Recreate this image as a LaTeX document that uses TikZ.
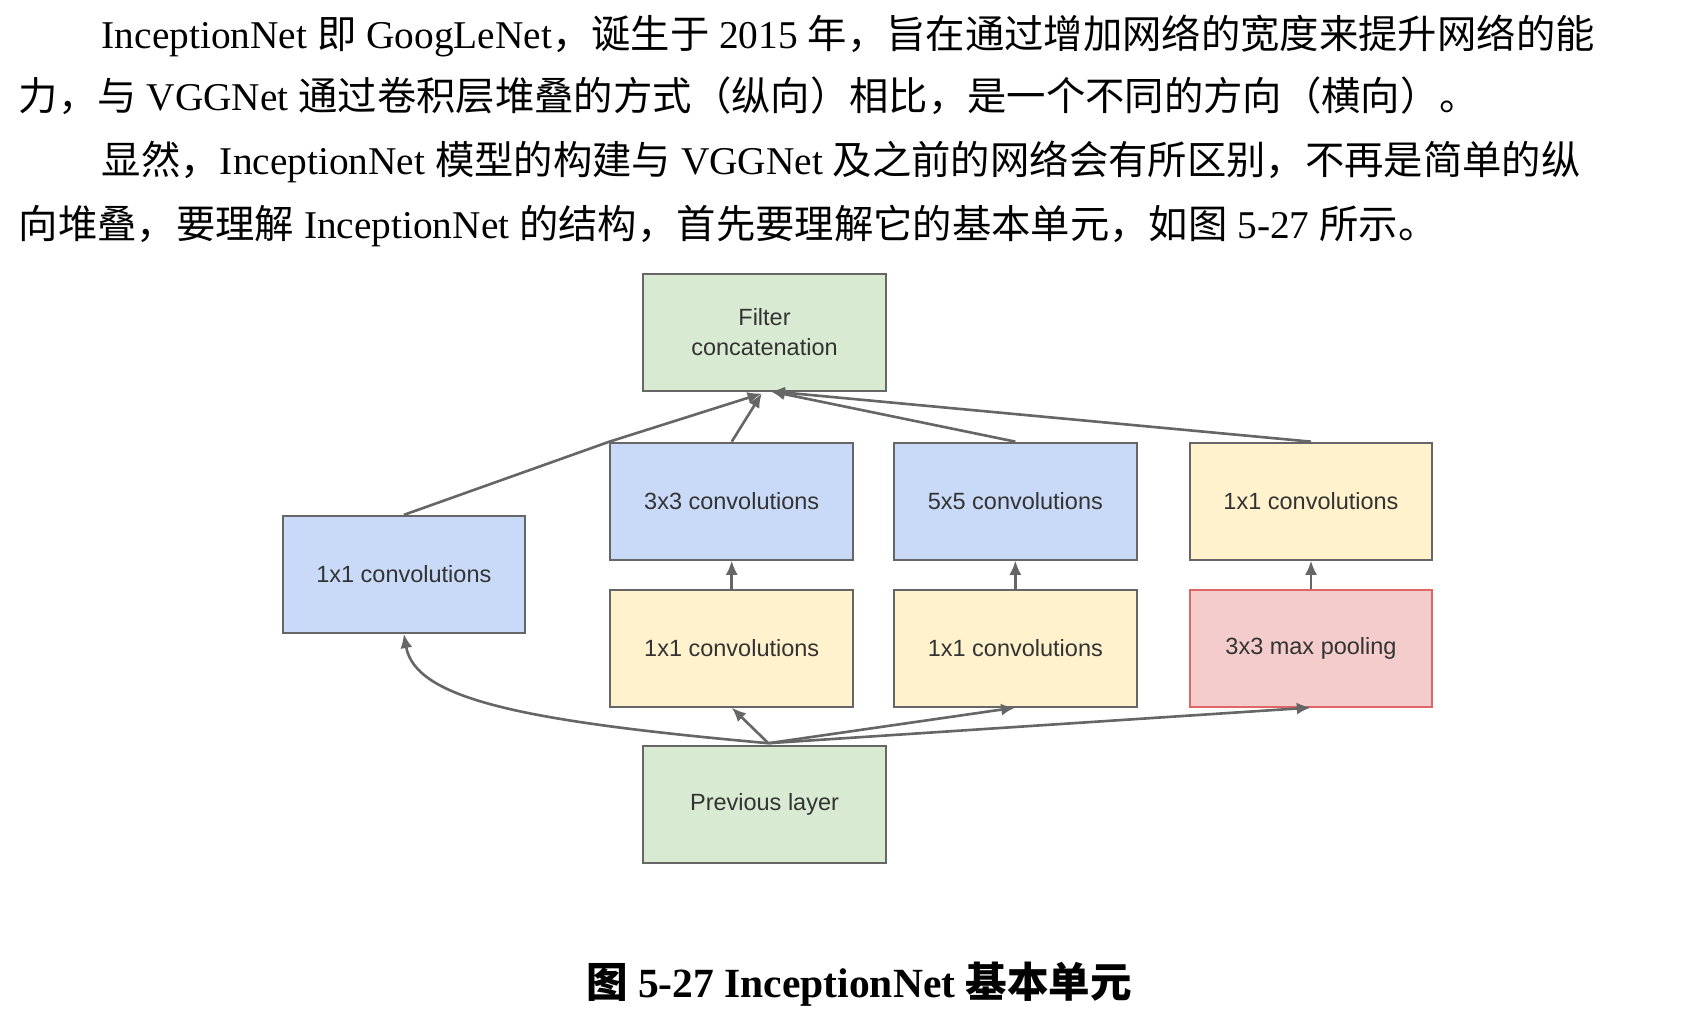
\documentclass[tikz,border=0pt]{standalone}
\usepackage{fontspec}
\setmainfont{Liberation Serif}
\setsansfont{Liberation Sans}
\newfontfamily\cjk{Noto Sans CJK SC}
\begin{document}
\begin{tikzpicture}[x=1pt,y=-1pt,
 box/.style={draw=black!60,line width=1.8pt,minimum width=222pt,minimum height=107pt,inner sep=0pt,font=\sffamily\fontsize{21.5}{26}\selectfont,text=black!80,align=center},
 gbox/.style={box,fill={rgb,255:red,217;green,234;blue,211}},
 bbox/.style={box,fill={rgb,255:red,201;green,218;blue,248}},
 ybox/.style={box,fill={rgb,255:red,255;green,242;blue,204}},
 pbox/.style={box,fill={rgb,255:red,244;green,204;blue,204},draw={rgb,255:red,224;green,102;blue,102}},
 arr/.style={draw=black!60,line width=2.4pt,-{Latex[length=13pt,width=11pt]}},
 ln/.style={anchor=base west,inner sep=0pt,font=\fontsize{36}{40}\selectfont}]
\usetikzlibrary{arrows.meta}
\useasboundingbox (0,0) rectangle (1560,926);
\node[ln] (l1) at (93,44) {InceptionNet {\cjk 即} GoogLeNet{\cjk ，诞生于} 2015 {\cjk 年，旨在通过增加网络的宽度来提升网络的能}};
\node[ln] (l2) at (17,101) {{\cjk 力，与} VGGNet {\cjk 通过卷积层堆叠的方式（纵向）相比，是一个不同的方向（横向）。}};
\node[ln] (l3) at (93,160) {{\cjk 显然，}InceptionNet {\cjk 模型的构建与} VGGNet {\cjk 及之前的网络会有所区别，不再是简单的纵}};
\node[ln] (l4) at (17,218) {{\cjk 向堆叠，要理解} InceptionNet {\cjk 的结构，首先要理解它的基本单元，如图} 5-27 {\cjk 所示。}};
\node[ln,anchor=base,font=\bfseries\fontsize{38}{42}\selectfont] (cap) at (786,913) {{\cjk\bfseries 图} 5-27 InceptionNet {\cjk\bfseries 基本单元}};

\node[gbox] (fc) at (699.5,304) {Filter\\[2pt]concatenation};
\node[bbox] (a1) at (369.5,525.5) {1x1 convolutions};
\node[bbox] (b2) at (669.5,458.5) {3x3 convolutions};
\node[bbox] (c2) at (929,458.5) {5x5 convolutions};
\node[ybox] (d2) at (1199.5,458.5) {1x1 convolutions};
\node[ybox] (b1) at (669.5,593) {1x1 convolutions};
\node[ybox] (c1) at (929,593) {1x1 convolutions};
\node[pbox] (d1) at (1199.5,593) {3x3 max pooling};
\node[gbox] (pl) at (699.5,736) {Previous layer};

\coordinate (pt) at (703,680);
\draw[arr] (pt) .. controls (480,660) and (380,640) .. (a1.south);
\draw[arr] (pt) -- (b1.south);
\draw[arr] (pt) -- (c1.south);
\draw[arr] (pt) -- (d1.south);
\draw[arr] (b1.north) -- (b2.south);
\draw[arr] (c1.north) -- (c2.south);
\draw[arr] (d1.north) -- (d2.south);
\draw[arr] (a1.north) -- (b2.north west) -- (697,360);
\draw[arr] (b2.north) -- (697,360);
\draw[arr] (c2.north) -- (705,358);
\draw[arr] (d2.north) -- (705,358);
\end{tikzpicture}
\end{document}
